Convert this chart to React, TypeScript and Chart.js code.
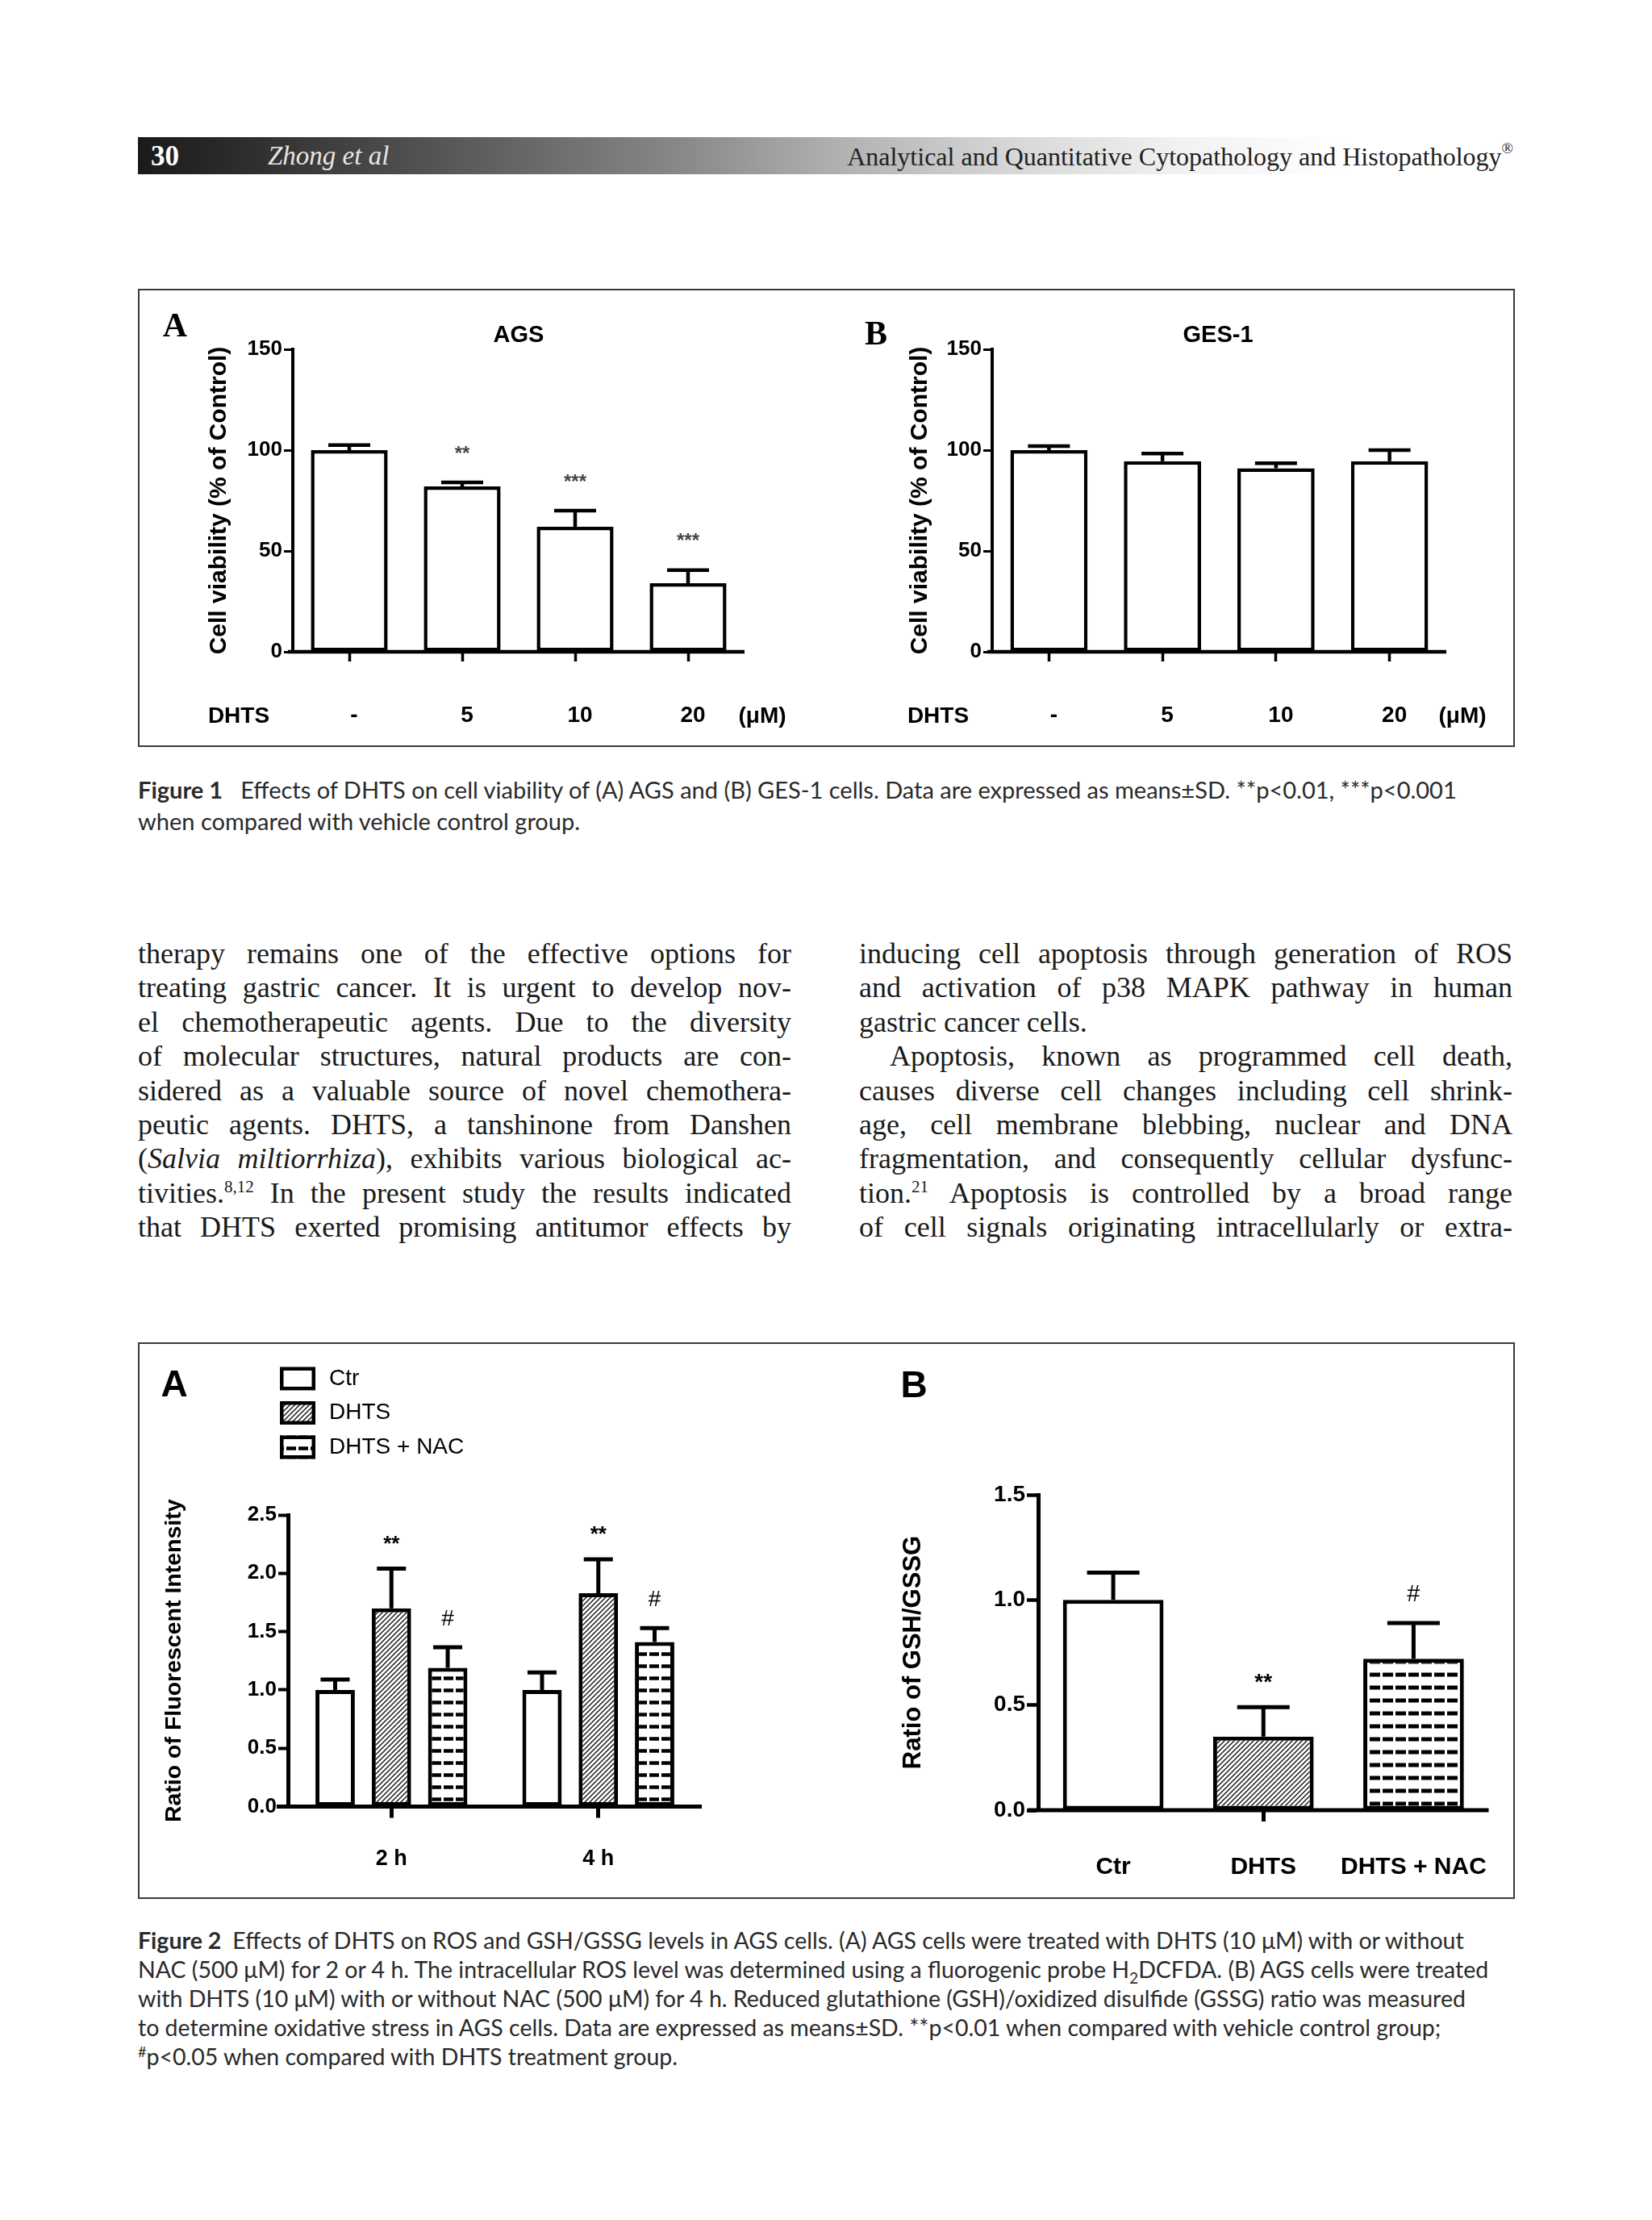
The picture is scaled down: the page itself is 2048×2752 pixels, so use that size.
import React, { useEffect, useRef } from 'react';
import { Chart, registerables } from 'chart.js';
Chart.register(...registerables);

const SANS = "'Liberation Sans', Arial, Helvetica, sans-serif";
const SERIF = "'Liberation Serif', 'Times New Roman', serif";
const CAP = "Lato, 'Open Sans', sans-serif";

// ---------- Figure 1 data ----------
const doseLabels = ['-', '5', '10', '20'];
const agsViability = [100, 82, 62, 34];
const agsSD = [2.5, 2, 8, 6.5];
const agsMarks = ['', '**', '***', '***'];
const ges1Viability = [100, 94.5, 91, 94.5];
const ges1SD = [2, 3.8, 2.5, 5.5];
const ges1Marks = ['', '', '', ''];
const viabilityTicks = [0, 50, 100, 150];

// ---------- Figure 2A data ----------
const timeLabels = ['2 h', '4 h'];
const seriesNames = ['Ctr', 'DHTS', 'DHTS + NAC'];
const rosCtr = [1.0, 1.0];
const rosCtrSD = [0.09, 0.15];
const rosDHTS = [1.7, 1.83];
const rosDHTSSD = [0.34, 0.29];
const rosNAC = [1.19, 1.41];
const rosNACSD = [0.175, 0.12];
const rosCtrMarks = ['', ''];
const rosDHTSMarks = ['**', '**'];
const rosNACMarks = ['#', '#'];
const rosTicks = [0, 0.5, 1.0, 1.5, 2.0, 2.5];

// ---------- Figure 2B data ----------
const gshLabels = ['Ctr', 'DHTS', 'DHTS + NAC'];
const gshRatio = [1.0, 0.35, 0.72];
const gshSD = [0.13, 0.14, 0.17];
const gshMarks = ['', '**', '#'];
const gshTicks = [0, 0.5, 1.0, 1.5];

type Rect = { x: number; y: number; w: number; h: number };
type Area = { l: number; t: number; r: number; b: number };

function frame(c: Rect, a: Area) {
  return {
    padding: { left: 0, top: a.t - c.y, right: c.x + c.w - a.r, bottom: 0 },
    yWidth: a.l - c.x,
    xHeight: c.y + c.h - a.b,
  };
}

function makeDiag(s: number, lw: number) {
  const c = document.createElement('canvas');
  c.width = s; c.height = s;
  const g = c.getContext('2d')!;
  g.fillStyle = '#fff'; g.fillRect(0, 0, s, s);
  g.strokeStyle = '#111'; g.lineWidth = lw;
  g.beginPath();
  g.moveTo(0, s); g.lineTo(s, 0);
  g.moveTo(-2, 2); g.lineTo(2, -2);
  g.moveTo(s - 2, s + 2); g.lineTo(s + 2, s - 2);
  g.stroke();
  return g.createPattern(c, 'repeat')!;
}

function makeDash(w: number, h: number, seg: number, thick: number) {
  const c = document.createElement('canvas');
  c.width = w; c.height = h;
  const g = c.getContext('2d')!;
  g.fillStyle = '#fff'; g.fillRect(0, 0, w, h);
  g.fillStyle = '#000';
  g.fillRect(0, (h - thick) / 2, seg, thick);
  return g.createPattern(c, 'repeat')!;
}

function errorBars(cfg: { cap: number; lw: number; off: number; star: string; hash: string; color: string; starShift: number }) {
  return {
    id: 'errorBars',
    afterDatasetsDraw(chart: any) {
      const ctx = chart.ctx;
      const ys = chart.scales.y;
      chart.data.datasets.forEach((ds: any, i: number) => {
        const meta = chart.getDatasetMeta(i);
        meta.data.forEach((el: any, j: number) => {
          const v = ds.data[j];
          const sd = ds.sd ? ds.sd[j] : 0;
          const yBar = ys.getPixelForValue(v);
          const yTop = ys.getPixelForValue(v + sd);
          ctx.save();
          ctx.strokeStyle = '#000';
          ctx.lineWidth = cfg.lw;
          ctx.beginPath();
          ctx.moveTo(el.x, yBar);
          ctx.lineTo(el.x, yTop);
          ctx.moveTo(el.x - cfg.cap / 2, yTop);
          ctx.lineTo(el.x + cfg.cap / 2, yTop);
          ctx.stroke();
          const m = ds.marks ? ds.marks[j] : '';
          if (m) {
            ctx.fillStyle = cfg.color;
            ctx.textAlign = 'center';
            ctx.textBaseline = 'middle';
            const isStar = m.indexOf('*') >= 0;
            ctx.font = isStar ? cfg.star : cfg.hash;
            ctx.fillText(m, el.x, yTop - cfg.off + (isStar ? cfg.starShift : 0));
          }
          ctx.restore();
        });
      });
    },
  };
}

function xAxisLine(extend: number, lw: number) {
  return {
    id: 'xAxisLine',
    afterDraw(chart: any) {
      const { ctx, chartArea: a } = chart;
      ctx.save();
      ctx.strokeStyle = '#000';
      ctx.lineWidth = lw;
      ctx.beginPath();
      ctx.moveTo(a.left - extend, a.bottom);
      ctx.lineTo(a.right, a.bottom);
      ctx.stroke();
      ctx.restore();
    },
  };
}

function vLegend(cfg: { x: number; y: number; gap: number; w: number; h: number; tx: number; font: string; lw: number }) {
  return {
    id: 'vLegend',
    afterDraw(chart: any) {
      const ctx = chart.ctx;
      chart.data.datasets.forEach((ds: any, i: number) => {
        const cy = cfg.y + i * cfg.gap;
        ctx.save();
        ctx.fillStyle = ds.backgroundColor;
        ctx.fillRect(cfg.x, cy - cfg.h / 2, cfg.w, cfg.h);
        ctx.strokeStyle = '#000';
        ctx.lineWidth = cfg.lw;
        ctx.strokeRect(cfg.x + cfg.lw / 2, cy - cfg.h / 2 + cfg.lw / 2, cfg.w - cfg.lw, cfg.h - cfg.lw);
        ctx.fillStyle = '#000';
        ctx.font = cfg.font;
        ctx.textAlign = 'left';
        ctx.textBaseline = 'middle';
        ctx.fillText(ds.label, cfg.tx, cy);
        ctx.restore();
      });
    },
  };
}

function yScale(max: number, ticks: number[], fmt: (v: number) => string, f: any, tickFont: number, tickLen: number, tickPad: number, tickW: number, title: string, titleFont: number, titleCenter: number, lw: number) {
  return {
    type: 'linear',
    min: 0,
    max,
    afterBuildTicks: (s: any) => { s.ticks = ticks.map((v) => ({ value: v })); },
    afterFit: (s: any) => { s.width = f.yWidth; },
    ticks: { font: { family: SANS, weight: 'bold', size: tickFont }, color: '#000', padding: tickPad, callback: (v: any) => fmt(Number(v)) },
    grid: { display: true, drawOnChartArea: false, drawTicks: true, tickLength: tickLen, tickWidth: tickW, tickColor: '#000', color: '#000' },
    border: { display: true, color: '#000', width: lw },
    title: {
      display: true, text: title, color: '#000',
      font: { family: SANS, weight: 'bold', size: titleFont, lineHeight: 1.2 },
      padding: { top: titleCenter - titleFont * 0.6, bottom: 0 },
    },
  };
}

function xScale(f: any, font: number, tickLen: number, pad: number, labelOffset: number, lw: number, tickColor: any) {
  return {
    type: 'category',
    offset: true,
    afterFit: (s: any) => { s.height = f.xHeight; },
    ticks: { font: { family: SANS, weight: 'bold', size: font }, color: '#000', padding: pad, labelOffset, autoSkip: false, maxRotation: 0 },
    grid: { display: true, offset: false, drawOnChartArea: false, drawTicks: true, tickLength: tickLen, tickWidth: lw, tickColor, color: '#000' },
    border: { display: false },
  };
}

const baseOpts = (f: any) => ({
  responsive: false,
  animation: false,
  devicePixelRatio: 1,
  layout: { padding: f.padding },
  plugins: { legend: { display: false }, tooltip: { enabled: false }, title: { display: false } },
});

function viabilityChart(cv: HTMLCanvasElement, c: Rect, a: Area, values: number[], sd: number[], marks: string[], titleCenter: number) {
  const f = frame(c, a);
  return new Chart(cv, {
    type: 'bar',
    data: {
      labels: doseLabels,
      datasets: [{
        data: values, sd, marks,
        backgroundColor: '#fff', borderColor: '#000', borderWidth: 4.5, borderSkipped: false,
        categoryPercentage: 1, barPercentage: 0.68,
      } as any],
    },
    options: {
      ...baseOpts(f),
      scales: {
        x: xScale(f, 28, 12, 50, 6, 3.5, '#000'),
        y: yScale(150, viabilityTicks, (v) => String(v), f, 26, 11, 2, 3, 'Cell viability (% of Control)', 30, titleCenter, 4),
      },
    } as any,
    plugins: [errorBars({ cap: 52, lw: 4.5, off: 40, star: `bold 24px ${SANS}`, hash: `26px ${SANS}`, color: '#444', starShift: 5 }), xAxisLine(6, 4.5)],
  });
}

const fix1 = (v: number) => v.toFixed(1);

function Txt(p: { x: number; y: number; font: string; color?: string; children: any; anchor?: 'center' | 'left' | 'right' }) {
  const tx = p.anchor === 'left' ? '0' : p.anchor === 'right' ? '-100%' : '-50%';
  return (
    <div style={{ position: 'absolute', left: p.x, top: p.y, transform: `translate(${tx}, -50%)`, font: p.font, color: p.color || '#000', whiteSpace: 'nowrap', lineHeight: 1 }}>
      {p.children}
    </div>
  );
}

function BodyLine(p: { x: number; y: number; w: number; justify: boolean; indent?: number; children: any }) {
  return (
    <div style={{
      position: 'absolute', left: p.x, top: p.y - 21, width: p.w, height: 42, lineHeight: '42px',
      whiteSpace: 'nowrap', textAlign: p.justify ? 'justify' : 'left', textAlignLast: p.justify ? 'justify' : 'left',
      font: `36px ${SERIF}`, color: '#1a1a1a', textIndent: p.indent || 0,
    } as any}>
      {p.children}
    </div>
  );
}

function CapLine(p: { y: number; size: number; children: any }) {
  return (
    <div style={{ position: 'absolute', left: 171, top: p.y - 18, height: 36, lineHeight: '36px', whiteSpace: 'nowrap', font: `${p.size}px ${CAP}`, color: '#2a2a2a' }}>
      {p.children}
    </div>
  );
}

const leftCol = [
  'therapy remains one of the effective options for',
  'treating gastric cancer. It is urgent to develop nov-',
  'el chemotherapeutic agents. Due to the diversity',
  'of molecular structures, natural products are con-',
  'sidered as a valuable source of novel chemothera-',
  'peutic agents. DHTS, a tanshinone from Danshen',
];
const rightCol = [
  'causes diverse cell changes including cell shrink-',
  'age, cell membrane blebbing, nuclear and DNA',
  'fragmentation, and consequently cellular dysfunc-',
];

export default function App() {
  const r1 = useRef<HTMLCanvasElement>(null);
  const r2 = useRef<HTMLCanvasElement>(null);
  const r3 = useRef<HTMLCanvasElement>(null);
  const r4 = useRef<HTMLCanvasElement>(null);

  const c1: Rect = { x: 175, y: 362, w: 830, h: 556 };
  const c2: Rect = { x: 1040, y: 362, w: 830, h: 556 };
  const c3: Rect = { x: 175, y: 1668, w: 835, h: 678 };
  const c4: Rect = { x: 1090, y: 1668, w: 830, h: 678 };

  useEffect(() => {
    const charts: Chart[] = [];
    const diagA = makeDiag(6, 1.4);
    const diagB = makeDiag(6, 1.4);
    const dashA = makeDash(15, 15, 12, 4.5);
    const dashB = makeDash(16, 16, 13, 5);

    charts.push(viabilityChart(r1.current!, c1, { l: 363, t: 433, r: 923, b: 808 }, agsViability, agsSD, agsMarks, 97));
    charts.push(viabilityChart(r2.current!, c2, { l: 1230, t: 433, r: 1793, b: 808 }, ges1Viability, ges1SD, ges1Marks, 101));

    const f3 = frame(c3, { l: 357, t: 1878, r: 870, b: 2239.5 });
    const barA = { borderColor: '#000', borderWidth: 5, borderSkipped: false, categoryPercentage: 0.816, barPercentage: 0.7 };
    charts.push(new Chart(r3.current!, {
      type: 'bar',
      data: {
        labels: timeLabels,
        datasets: [
          { label: seriesNames[0], data: rosCtr, sd: rosCtrSD, marks: rosCtrMarks, backgroundColor: '#fff', ...barA } as any,
          { label: seriesNames[1], data: rosDHTS, sd: rosDHTSSD, marks: rosDHTSMarks, backgroundColor: diagA, ...barA } as any,
          { label: seriesNames[2], data: rosNAC, sd: rosNACSD, marks: rosNACMarks, backgroundColor: dashA, ...barA } as any,
        ],
      },
      options: {
        ...baseOpts(f3),
        scales: {
          x: xScale(f3, 27, 14, 35, 0, 5, '#000'),
          y: yScale(2.5, rosTicks, fix1, f3, 26, 12, 2, 4, 'Ratio of Fluorescent Intensity', 28.5, 41, 5),
        },
      } as any,
      plugins: [
        errorBars({ cap: 36, lw: 5, off: 35, star: `bold 26px ${SANS}`, hash: `28px ${SANS}`, color: '#000', starShift: 5 }),
        xAxisLine(14, 5),
        vLegend({ x: 172, y: 41, gap: 42.5, w: 44, h: 29, tx: 233, font: `28px ${SANS}`, lw: 4.5 }),
      ],
    }));

    const f4 = frame(c4, { l: 1287, t: 1853, r: 1845.5, b: 2244 });
    charts.push(new Chart(r4.current!, {
      type: 'bar',
      data: {
        labels: gshLabels,
        datasets: [{
          data: gshRatio, sd: gshSD, marks: gshMarks,
          backgroundColor: ['#fff', diagB, dashB], borderColor: '#000', borderWidth: 5, borderSkipped: false,
          categoryPercentage: 1, barPercentage: 0.67,
        } as any],
      },
      options: {
        ...baseOpts(f4),
        scales: {
          x: xScale(f4, 30, 14, 39, 0, 5, (ctx: any) => (ctx.index === 1 ? '#000' : 'rgba(0,0,0,0)')),
          y: yScale(1.5, gshTicks, fix1, f4, 28, 14, 2, 4.5, 'Ratio of GSH/GSSG', 31, 42, 5),
        },
      } as any,
      plugins: [
        errorBars({ cap: 65, lw: 5, off: 35, star: `bold 28px ${SANS}`, hash: `29px ${SANS}`, color: '#000', starShift: 5 }),
        xAxisLine(13, 5),
      ],
    }));

    return () => charts.forEach((c) => c.destroy());
  }, []);

  const cvStyle = (c: Rect): React.CSSProperties => ({ position: 'absolute', left: c.x, top: c.y, width: c.w, height: c.h });

  const lx = 171, rx = 1065, colW = 810;
  const ly = (i: number) => 1182 + 42.4 * i;
  const cap2 = (i: number) => 2406 + 36 * i;

  return (
    <div style={{ position: 'absolute', left: 0, top: 0, width: 2048, height: 2752, background: '#fff', overflow: 'hidden' }}>
      {/* header */}
      <div style={{ position: 'absolute', left: 171, top: 170, width: 1705, height: 46, background: 'linear-gradient(to right, #1a1a1a 0%, #2e2e2e 8%, #5e5e5e 25%, #8a8a8a 40%, #b4b4b4 52%, #d8d8d8 64%, #f2f2f2 76%, #ffffff 88%, #ffffff 100%)' }} />
      <Txt x={187} y={193} anchor="left" font={`bold 35px ${SERIF}`} color="#fff">30</Txt>
      <Txt x={332} y={193} anchor="left" font={`italic 33px ${SERIF}`} color="#e6e6e6">Zhong et al</Txt>
      <Txt x={1876} y={194} anchor="right" font={`32px ${SERIF}`} color="#222">
        Analytical and Quantitative Cytopathology and Histopathology<sup style={{ fontSize: 19, verticalAlign: 'top', position: 'relative', top: -4 }}>®</sup>
      </Txt>

      {/* Figure 1 */}
      <div style={{ position: 'absolute', left: 171, top: 358, width: 1703, height: 564, border: '2px solid #3a3a3a' }} />
      <canvas ref={r1} width={c1.w} height={c1.h} style={cvStyle(c1)} />
      <canvas ref={r2} width={c2.w} height={c2.h} style={cvStyle(c2)} />
      <Txt x={217} y={403} font={`bold 42px ${SERIF}`}>A</Txt>
      <Txt x={1086} y={413} font={`bold 42px ${SERIF}`}>B</Txt>
      <Txt x={643} y={414} font={`bold 29px ${SANS}`}>AGS</Txt>
      <Txt x={1510} y={414} font={`bold 29px ${SANS}`}>GES-1</Txt>
      <Txt x={296} y={887} font={`bold 28px ${SANS}`}>DHTS</Txt>
      <Txt x={945} y={887} font={`bold 28px ${SANS}`}>(μM)</Txt>
      <Txt x={1163} y={887} font={`bold 28px ${SANS}`}>DHTS</Txt>
      <Txt x={1813} y={887} font={`bold 28px ${SANS}`}>(μM)</Txt>

      <CapLine y={979} size={29}><b>Figure 1</b><span style={{ display: 'inline-block', width: 22 }} />Effects of DHTS on cell viability of (A) AGS and (B) GES-1 cells. Data are expressed as means±SD. **p&lt;0.01, ***p&lt;0.001</CapLine>
      <CapLine y={1018} size={29}>when compared with vehicle control group.</CapLine>

      {/* body text */}
      {leftCol.map((t, i) => <BodyLine key={'l' + i} x={lx} y={ly(i)} w={colW} justify>{t}</BodyLine>)}
      <BodyLine x={lx} y={ly(6)} w={colW} justify>(<i>Salvia miltiorrhiza</i>), exhibits various biological ac-</BodyLine>
      <BodyLine x={lx} y={ly(7)} w={colW} justify>tivities.<sup style={{ fontSize: 21, lineHeight: 0 }}>8,12</sup> In the present study the results indicated</BodyLine>
      <BodyLine x={lx} y={ly(8)} w={colW} justify>that DHTS exerted promising antitumor effects by</BodyLine>

      <BodyLine x={rx} y={ly(0)} w={colW} justify>inducing cell apoptosis through generation of ROS</BodyLine>
      <BodyLine x={rx} y={ly(1)} w={colW} justify>and activation of p38 MAPK pathway in human</BodyLine>
      <BodyLine x={rx} y={ly(2)} w={colW} justify={false}>gastric cancer cells.</BodyLine>
      <BodyLine x={rx} y={ly(3)} w={colW} justify indent={38}>Apoptosis, known as programmed cell death,</BodyLine>
      {rightCol.map((t, i) => <BodyLine key={'r' + i} x={rx} y={ly(4 + i)} w={colW} justify>{t}</BodyLine>)}
      <BodyLine x={rx} y={ly(7)} w={colW} justify>tion.<sup style={{ fontSize: 21, lineHeight: 0 }}>21</sup> Apoptosis is controlled by a broad range</BodyLine>
      <BodyLine x={rx} y={ly(8)} w={colW} justify>of cell signals originating intracellularly or extra-</BodyLine>

      {/* Figure 2 */}
      <div style={{ position: 'absolute', left: 171, top: 1664, width: 1703, height: 686, border: '2px solid #3a3a3a' }} />
      <canvas ref={r3} width={c3.w} height={c3.h} style={cvStyle(c3)} />
      <canvas ref={r4} width={c4.w} height={c4.h} style={cvStyle(c4)} />
      <Txt x={216} y={1715} font={`bold 46px ${SANS}`}>A</Txt>
      <Txt x={1133} y={1716} font={`bold 46px ${SANS}`}>B</Txt>

      <CapLine y={cap2(0)} size={28.5}><b>Figure 2</b><span style={{ display: 'inline-block', width: 14 }} />Effects of DHTS on ROS and GSH/GSSG levels in AGS cells. (A) AGS cells were treated with DHTS (10 μM) with or without</CapLine>
      <CapLine y={cap2(1)} size={28.5}>NAC (500 μM) for 2 or 4 h. The intracellular ROS level was determined using a fluorogenic probe H<sub style={{ fontSize: 19, lineHeight: 0 }}>2</sub>DCFDA. (B) AGS cells were treated</CapLine>
      <CapLine y={cap2(2)} size={28.5}>with DHTS (10 μM) with or without NAC (500 μM) for 4 h. Reduced glutathione (GSH)/oxidized disulfide (GSSG) ratio was measured</CapLine>
      <CapLine y={cap2(3)} size={28.5}>to determine oxidative stress in AGS cells. Data are expressed as means±SD. **p&lt;0.01 when compared with vehicle control group;</CapLine>
      <CapLine y={cap2(4)} size={28.5}><sup style={{ fontSize: 18, lineHeight: 0 }}>#</sup>p&lt;0.05 when compared with DHTS treatment group.</CapLine>
    </div>
  );
}
